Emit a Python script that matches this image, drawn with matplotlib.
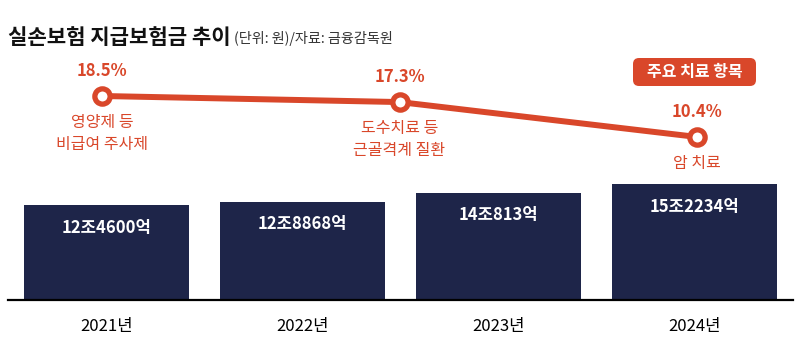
import matplotlib
matplotlib.use("Agg")
import matplotlib.pyplot as plt
from matplotlib.patches import FancyBboxPatch

plt.rcParams['font.family'] = ['Noto Sans CJK KR', 'DejaVu Sans']

# 데이터
years = ["2021년", "2022년", "2023년", "2024년"]
payout = [12.46, 12.8868, 14.0813, 15.2234]  # 조 원
payout_labels = ["12조4600억", "12조8868억", "14조813억", "15조2234억"]

share = [18.5, 17.3, 10.4]  # %
share_labels = ["18.5%", "17.3%", "10.4%"]
share_items = ["영양제 등\n비급여 주사제", "도수치료 등\n근골격계 질환", "암 치료"]

ORANGE = "#D9472A"
NAVY = "#1E2549"

fig = plt.figure(figsize=(8, 3.63), dpi=100)

# 막대 (지급보험금)
ax = fig.add_axes([0, 0, 1, 1])
x = range(len(years))
ax.bar(x, payout, width=0.842, color=NAVY)
ax.set_xlim(-0.543, 3.538)
ax.set_ylim(-8.29, 39.47)
ax.axhline(0, xmin=8 / 800, xmax=793 / 800, color="black", lw=1.6)
for i, v in enumerate(payout):
    ax.annotate(payout_labels[i], (i, v), xytext=(0, -16), textcoords="offset points",
                ha="center", va="center", color="white", fontsize=12, fontweight="bold")
    ax.annotate(years[i], (i, 0), xytext=(0, -19), textcoords="offset points",
                ha="center", va="center", color="black", fontsize=12)
ax.axis("off")

# 꺾은선 (주요 치료 항목 비중)
ax2 = fig.add_axes([0, 0, 1, 1])
ax2.patch.set_alpha(0)
xs = range(len(share))
ax2.plot(xs, share, color=ORANGE, lw=4.3, marker="o", ms=11, mfc="white",
         mec=ORANGE, mew=3.8, solid_capstyle="butt")
ax2.set_xlim(-0.343, 2.346)
ax2.set_ylim(-34.27, 37.47)
for i, v in enumerate(share):
    ax2.annotate(share_labels[i], (i, v), xytext=(0, 18), textcoords="offset points",
                 ha="center", va="center", color=ORANGE, fontsize=12, fontweight="bold")
    ax2.annotate(share_items[i], (i, v), xytext=(0, -13), textcoords="offset points",
                 ha="center", va="top", color=ORANGE, fontsize=11.5, linespacing=1.4)
ax2.axis("off")

# 주요 치료 항목 배지
badge = FancyBboxPatch((6.33, 2.77), 1.23, 0.28, boxstyle="round,pad=0,rounding_size=0.06",
                       fc=ORANGE, ec="none", transform=fig.dpi_scale_trans)
fig.patches.append(badge)
fig.text(694.5 / 800, 1 - 72 / 363, "주요 치료 항목", ha="center", va="center",
         color="white", fontsize=11.5, fontweight="bold")

# 제목
fig.text(8 / 800, 1 - 38 / 363, "실손보험 지급보험금 추이", ha="left", va="center",
         fontsize=15.2, fontweight="bold", color="#111111")
fig.text(234 / 800, 1 - 38 / 363, "(단위: 원)/자료: 금융감독원", ha="left", va="center",
         fontsize=10.2, color="#333333")

fig.savefig("out.png", dpi=100)
